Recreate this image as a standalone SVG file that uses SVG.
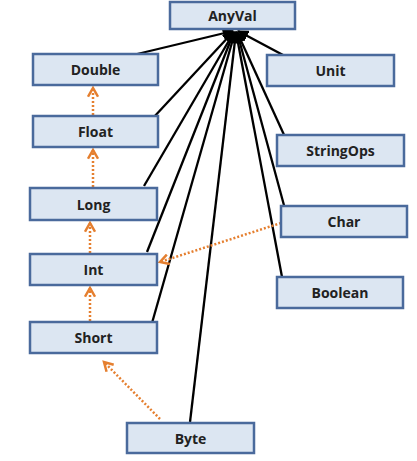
<svg xmlns="http://www.w3.org/2000/svg" width="417" height="461" viewBox="0 0 417 461">
<style>
.box{fill:#DCE6F2;stroke:#4A6A9C;stroke-width:2.5}
.lbl{font-family:"Open Sans","Liberation Sans",Arial,sans-serif;font-weight:bold;font-size:14px;fill:#222;text-anchor:middle}
.blk{stroke:#000;stroke-width:2.3;fill:none;marker-end:url(#ba)}
.org{stroke:#E57F2F;stroke-width:2.5;stroke-dasharray:2 2;fill:none;marker-end:url(#oa)}
</style>
<defs>
<marker id="ba" viewBox="0 0 10 10" refX="9" refY="5" markerWidth="5" markerHeight="5" orient="auto" markerUnits="strokeWidth">
<path d="M0,0 L10,5 L0,10 z" fill="#000"/>
</marker>
<marker id="oa" viewBox="0 0 10 10" refX="8" refY="5" markerWidth="5" markerHeight="5" orient="auto" markerUnits="strokeWidth">
<path d="M1,1 L8,5 L1,9" fill="none" stroke="#E57F2F" stroke-width="2"/>
</marker>
</defs>
<g id="connectors">
<path class="blk" d="M133,55 L233,31"/>
<path class="blk" d="M153,118 L233,32"/>
<path class="blk" d="M144,186 L234,32"/>
<path class="blk" d="M147,252 L234,32"/>
<path class="blk" d="M152,323 L235,32"/>
<path class="blk" d="M190,422 L236,32"/>
<path class="blk" d="M283,55 L238,31"/>
<path class="blk" d="M285,137 L237,32"/>
<path class="blk" d="M285,209 L237,32"/>
<path class="blk" d="M282,277 L236,32"/>
<path class="org" d="M93,115 L93,88"/>
<path class="org" d="M93,187 L93,150"/>
<path class="org" d="M90,253 L90,223"/>
<path class="org" d="M90,321 L90,288"/>
<path class="org" d="M160,419 L104,362"/>
<path class="org" d="M281,223 L160,262"/>
</g>
<g id="AnyVal"><rect class="box" x="170" y="2" width="125" height="27"/><text class="lbl" x="232.5" y="21">AnyVal</text></g>
<g id="Double"><rect class="box" x="33" y="54" width="125" height="31"/><text class="lbl" x="95.5" y="75">Double</text></g>
<g id="Float"><rect class="box" x="33" y="116" width="125" height="31"/><text class="lbl" x="95.5" y="137">Float</text></g>
<g id="Long"><rect class="box" x="30" y="188" width="127" height="32"/><text class="lbl" x="93.5" y="210">Long</text></g>
<g id="Int"><rect class="box" x="30" y="254" width="127" height="31"/><text class="lbl" x="93.5" y="275">Int</text></g>
<g id="Short"><rect class="box" x="30" y="322" width="127" height="31"/><text class="lbl" x="93.5" y="343">Short</text></g>
<g id="Byte"><rect class="box" x="127" y="423" width="127" height="30"/><text class="lbl" x="190.5" y="444">Byte</text></g>
<g id="Unit"><rect class="box" x="267" y="55" width="127" height="31"/><text class="lbl" x="330.5" y="76">Unit</text></g>
<g id="StringOps"><rect class="box" x="277" y="135" width="127" height="31"/><text class="lbl" x="340.5" y="156">StringOps</text></g>
<g id="Char"><rect class="box" x="281" y="206" width="126" height="31"/><text class="lbl" x="344" y="227">Char</text></g>
<g id="Boolean"><rect class="box" x="277" y="277" width="126" height="31"/><text class="lbl" x="340" y="298">Boolean</text></g>
</svg>
